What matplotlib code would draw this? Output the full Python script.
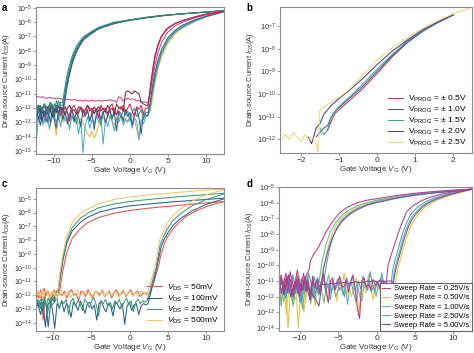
import numpy as np
import matplotlib.pyplot as plt

plt.rcParams['font.family'] = ['Liberation Sans', 'DejaVu Sans']
plt.rcParams['mathtext.fontset'] = 'custom'
plt.rcParams['mathtext.rm'] = 'Liberation Sans'
plt.rcParams['mathtext.it'] = 'Liberation Sans:italic'
plt.rcParams['mathtext.bf'] = 'Liberation Sans:bold'

# ---------------- panel a : log10(I_DS) ----------------
a_fwd_start, a_fwd_end = -12.3, 2.4
a_on_vg = [2.4, 2.7, 3.0, 3.3, 3.7, 4.2, 5.0, 6.0, 7.0, 8.5, 10.0, 12.4]

a_crimson_noise = [-11.8,-12.3,-11.9,-12.2,-12.6,-11.9,-12.1,-11.7,-12.4,-12.0,
                   -11.8,-12.5,-12.1,-11.9,-12.3,-12.9,-12.0,-11.8,-12.2,-12.4,
                   -11.9,-12.1,-12.6,-11.8,-12.0,-12.3,-11.9,-12.2,-12.7,-11.8,
                   -12.1,-12.0,-12.4,-11.9,-11.7,-12.2,-12.5,-11.9,-12.1,-11.8,
                   -12.3,-12.0,-11.7,-12.2,-12.6,-11.9,-12.1,-11.8,-12.4,-12.0]
a_blue_noise = [-12.0,-12.6,-13.2,-12.1,-12.4,-13.0,-12.2,-11.9,-12.7,-13.4,
                -12.3,-12.0,-12.8,-12.2,-13.1,-12.4,-12.0,-12.9,-12.3,-12.6,
                -13.3,-12.1,-12.5,-12.2,-12.9,-12.3,-13.5,-12.4,-12.1,-12.8,
                -12.2,-13.0,-12.5,-12.1,-12.7,-12.3,-13.6,-12.2,-12.4,-12.9,
                -12.1,-12.6,-12.3,-13.2,-12.4,-12.0,-12.7,-13.8,-12.3,-12.5]
a_cyan_noise = [-14.6,-12.8,-12.3,-13.1,-12.6,-12.2,-13.4,-12.7,-12.4,-13.0,
                -12.5,-13.3,-12.4,-12.9,-12.6,-13.5,-12.5,-13.0,-12.7,-13.8,
                -12.9,-15.1,-13.2,-12.6,-13.4,-12.8,-13.1,-12.5,-13.0,-12.7,
                -14.5,-12.8,-13.3,-12.6,-12.9,-13.6,-12.7,-13.0,-12.5,-13.2,
                -12.8,-13.0,-12.6,-13.4,-12.7,-12.9,-14.2,-12.8,-13.1,-12.6]
a_orange_noise = [-12.5,-12.9,-12.3,-13.2,-12.6,-12.4,-13.5,-12.8,-12.5,-13.9,
                  -12.7,-12.4,-13.0,-12.6,-12.8,-13.3,-12.5,-12.9,-12.6,-13.1,
                  -12.7,-13.0,-13.4,-13.8,-14.0,-13.6,-14.1,-13.7,-13.2,-12.8,
                  -12.6,-13.0,-12.7,-12.5,-12.9,-13.2,-12.6,-12.8,-12.5,-13.0,
                  -12.7,-12.9,-12.6,-13.1,-12.8,-13.5,-14.2,-13.0,-12.7,-12.5]
a_pink_noise = [-11.2,-11.2,-11.25,-11.2,-11.3,-11.3,-11.25,-11.3,-11.3,-11.35,
                -11.3,-11.35,-11.4,-11.35,-11.4,-11.4,-11.45,-11.4,-11.45,-11.5,
                -11.45,-11.5,-11.45,-11.5,-11.5,-11.45,-11.5,-11.5,-11.45,-11.5,
                -11.5,-11.45,-11.5,-11.4,-11.5,-11.45,-11.6,-11.2,-11.3,-11.5,
                -11.4,-11.3,-11.4,-11.35,-11.4,-11.5,-11.45,-11.6,-11.55,-11.6]
a_maroon_noise = [-12.1,-11.8,-12.3,-12.0,-11.9,-12.4,-12.1,-11.8,-12.2,-12.0,
                  -12.3,-11.9,-12.1,-12.5,-12.0,-11.8,-12.2,-12.1,-12.4,-11.9,
                  -12.0,-12.3,-12.1,-11.8,-12.2,-12.0,-12.4,-12.1,-11.9,-12.2,
                  -12.0,-12.3,-11.8,-12.1,-12.0,-12.4,-11.7,-12.0,-11.9,-12.2,
                  -10.9,-10.8,-10.9,-11.0,-10.8,-10.9,-11.0,-11.6,-11.7,-11.8]
a_teal_noise = [-12.3,-11.9,-12.5,-12.1,-13.0,-12.2,-11.8,-12.6,-12.3,-12.0,
                -12.8,-12.2,-12.4,-11.9,-12.3,-12.7,-12.1,-12.5,-13.1,-12.2,
                -12.0,-12.6,-12.3,-12.1,-12.9,-12.4,-12.2,-12.0,-12.5,-13.2,
                -12.3,-12.1,-12.6,-12.2,-12.8,-12.0,-12.4,-12.3,-12.7,-12.1,
                -12.5,-12.2,-12.9,-12.3,-12.0,-12.6,-12.4,-12.1,-12.8,-12.3]

a_crimson_on = [-12.0,-10.8,-9.6,-8.6,-7.7,-7.0,-6.45,-6.1,-5.9,-5.65,-5.45,-5.25]
a_maroon_on = [-11.8,-10.6,-9.4,-8.4,-7.6,-6.95,-6.4,-6.08,-5.88,-5.65,-5.45,-5.25]
a_pink_on = [-11.6,-11.0,-10.0,-9.1,-8.2,-7.4,-6.7,-6.25,-6.0,-5.72,-5.5,-5.25]
a_blue_on = [-12.5,-11.6,-10.5,-9.6,-8.7,-7.9,-7.1,-6.55,-6.2,-5.85,-5.6,-5.27]
a_teal_on = [-12.3,-11.8,-10.8,-9.9,-9.0,-8.1,-7.25,-6.65,-6.3,-5.9,-5.6,-5.27]
a_orange_on = [-12.5,-12.2,-11.3,-10.3,-9.3,-8.4,-7.5,-6.8,-6.4,-6.0,-5.65,-5.28]
a_cyan_on = [-12.6,-12.0,-11.0,-10.1,-9.1,-8.2,-7.35,-6.7,-6.35,-5.95,-5.62,-5.27]

a_bwd_vg = [12.4, 10, 7.5, 5, 2.5, 0, -2, -4, -5, -6, -6.5, -7, -7.5, -8, -8.3, -8.6, -8.8]
a_bwd_teal = [-5.2,-5.3,-5.4,-5.5,-5.65,-5.85,-6.05,-6.4,-6.7,-7.05,-7.4,-7.85,-8.5,-9.5,-10.3,-11.3,-11.8]
a_bwd_blue = [-5.2,-5.3,-5.4,-5.5,-5.65,-5.85,-6.1,-6.45,-6.8,-7.2,-7.6,-8.1,-8.8,-9.9,-10.8,-11.8,-12.0]
a_bwd_green = [-5.2,-5.3,-5.4,-5.5,-5.65,-5.85,-6.0,-6.35,-6.65,-7.0,-7.3,-7.7,-8.3,-9.2,-9.9,-10.9,-11.6]
a_bwd_navy = [-5.2,-5.3,-5.4,-5.52,-5.68,-5.88,-6.08,-6.45,-6.75,-7.15,-7.5,-8.0,-8.7,-9.7,-10.6,-11.6,-12.1]
a_bwd_noise_teal = [-11.8,-11.5,-12.0,-11.7,-12.2,-11.6,-11.9,-12.4,-11.7,-12.0,-11.8,-12.3,-11.9]
a_bwd_noise_blue = [-12.0,-12.4,-11.8,-12.6,-12.1,-13.0,-12.2,-11.9,-12.5,-12.2,-12.8,-12.0,-13.5]
a_bwd_noise_green = [-11.6,-11.9,-11.5,-12.1,-11.8,-11.6,-12.3,-11.9,-11.7,-12.2,-11.8,-12.0,-11.7]
a_bwd_noise_navy = [-12.1,-11.8,-12.3,-12.0,-12.6,-12.1,-11.9,-12.4,-12.2,-12.9,-12.0,-12.3,-12.5]

# ---------------- panel b ----------------
b_labels = ['± 0.5V', '± 1.0V', '± 1.5V', '± 2.0V', '± 2.5V']
b_vg_05 = [-1.3,-1.2,-1.1,-1.0,-0.7,-0.4,0.0,0.4,0.8,1.2,1.6,2.0]
b_log_05 = [-11.6,-11.2,-10.85,-10.7,-10.25,-9.8,-9.1,-8.35,-7.72,-7.23,-6.83,-6.5]
b_vg_10 = [-1.6,-1.5,-1.4,-1.3,-1.2,-1.1,-1.0,-0.7,-0.4,0.0,0.4,0.8,1.2,1.6,2.0]
b_log_10 = [-11.9,-11.7,-11.5,-11.4,-11.0,-10.75,-10.6,-10.15,-9.7,-9.0,-8.3,-7.7,-7.22,-6.83,-6.5]
b_vg_15 = [-1.5,-1.4,-1.3,-1.22,-1.1,-1.0,-0.7,-0.4,0.0,0.4,0.8,1.2,1.6,2.0]
b_log_15 = [-11.5,-11.8,-11.6,-11.1,-10.75,-10.55,-10.1,-9.6,-8.9,-8.25,-7.65,-7.2,-6.82,-6.5]
b_vg_20 = [-1.8,-1.72,-1.65,-1.6,-1.5,-1.4,-1.2,-1.0,-0.7,-0.4,0.0,0.4,0.8,1.2,1.6,2.0]
b_log_20 = [-11.9,-12.2,-11.8,-11.5,-11.3,-10.9,-10.5,-10.2,-9.8,-9.35,-8.7,-8.1,-7.6,-7.15,-6.8,-6.5]
b_vg_25 = [-2.5,-2.4,-2.3,-2.2,-2.1,-2.0,-1.9,-1.8,-1.7,-1.6,-1.55,-1.5,-1.3,-1.0,-0.7,-0.4,0.0,0.4,0.8,1.2,1.6,2.0,2.5]
b_log_25 = [-12.0,-11.8,-12.0,-11.7,-11.9,-12.1,-11.8,-12.0,-11.9,-12.2,-12.55,-10.7,-10.45,-10.15,-9.75,-9.2,-8.5,-7.95,-7.5,-7.1,-6.75,-6.45,-6.15]

# ---------------- panel c ----------------
c_labels = ['50mV', '100mV', '250mV', '500mV']
c_fwd_start = -12.2
c_noise_50 = [-11.8,-12.2,-11.6,-13.8,-11.9,-11.7,-12.1,-11.8,-12.3,-11.6,
              -11.9,-12.0,-11.7,-12.2,-11.8,-11.6,-12.0,-11.9,-12.4,-11.7,
              -11.8,-12.1,-11.6,-11.9,-12.2,-11.7,-11.8,-12.0,-11.6,-12.1,
              -11.9,-11.7,-12.2,-11.8,-11.6,-12.0,-11.9,-11.7,-12.1,-11.8,
              -11.6,-12.0,-11.8,-11.7,-12.1,-11.9,-11.8,-11.9]
c_noise_100 = [-12.3,-12.8,-13.4,-12.5,-14.3,-12.7,-12.4,-13.0,-14.4,-12.6,
               -12.9,-12.4,-13.2,-12.6,-12.8,-13.6,-12.5,-12.7,-13.1,-12.4,
               -12.8,-13.3,-12.6,-12.5,-13.0,-12.7,-13.8,-12.6,-12.4,-12.9,
               -13.2,-12.6,-12.8,-13.5,-12.5,-12.7,-13.0,-12.6,-14.1,-12.8,
               -12.5,-13.1,-12.7,-12.6,-13.4,-12.8,-12.6,-12.7]
c_noise_250 = [-12.2,-12.6,-12.3,-12.9,-12.4,-13.3,-12.3,-12.7,-12.5,-12.2,
               -13.0,-12.4,-12.6,-12.3,-13.4,-12.5,-12.2,-12.8,-12.4,-12.6,
               -13.1,-12.3,-12.5,-12.9,-12.4,-12.2,-12.7,-13.5,-12.4,-12.6,
               -12.3,-12.8,-12.5,-13.0,-12.4,-12.6,-12.3,-12.9,-12.5,-12.2,
               -12.7,-12.4,-13.2,-12.5,-12.3,-12.6,-12.4,-12.5]
c_noise_500 = [-11.7,-12.0,-11.8,-12.2,-11.6,-11.9,-12.1,-11.7,-11.9,-12.3,
               -11.8,-11.6,-12.0,-11.9,-11.7,-12.2,-11.8,-11.9,-11.6,-12.1,
               -11.9,-11.7,-12.0,-11.8,-12.2,-11.9,-11.7,-12.0,-11.8,-11.6,
               -12.1,-11.9,-11.8,-12.0,-11.7,-11.9,-12.2,-11.8,-11.6,-12.0,
               -11.9,-11.7,-12.1,-11.8,-12.0,-11.9,-11.7,-11.8]
c_on_vg_50 = [2.6,3.0,3.4,3.8,4.1,4.5,4.9,5.5,6.3,7.3,8.6,10.3,12.3]
c_on_50 = [-11.9,-11.3,-10.6,-9.8,-9.0,-8.3,-7.8,-7.3,-6.8,-6.3,-5.9,-5.5,-5.2]
c_on_vg_100 = [2.4,2.8,3.2,3.5,3.8,4.1,4.5,5.0,5.7,6.7,8.1,10.0,12.3]
c_on_100 = [-12.6,-11.7,-10.8,-10.1,-9.3,-8.5,-7.95,-7.45,-6.9,-6.4,-5.9,-5.4,-5.0]
c_on_vg_250 = [2.3,2.7,3.1,3.4,3.7,4.0,4.4,4.9,5.6,6.6,8.0,10.0,12.3]
c_on_250 = [-12.4,-11.6,-10.7,-10.1,-9.2,-8.3,-7.75,-7.2,-6.6,-6.1,-5.55,-5.05,-4.65]
c_on_vg_500 = [2.2,2.6,3.0,3.3,3.6,3.9,4.3,4.8,5.5,6.5,8.0,10.0,12.3]
c_on_500 = [-12.0,-11.3,-10.5,-10.0,-9.0,-8.0,-7.5,-6.9,-6.3,-5.8,-5.2,-4.7,-4.35]
c_bwd_vg = [12.3, 10, 7.5, 5, 2.5, 0, -2, -4, -5.5, -6.5, -7.5, -8.2, -8.7, -9.1, -9.3]
c_bwd_50 = [-5.2,-5.3,-5.42,-5.55,-5.68,-5.85,-6.05,-6.35,-6.75,-7.2,-7.9,-8.9,-10.2,-11.6,-12.0]
c_bwd_100 = [-4.95,-5.05,-5.15,-5.25,-5.38,-5.52,-5.7,-5.98,-6.35,-6.75,-7.35,-8.25,-9.5,-10.9,-11.8]
c_bwd_250 = [-4.6,-4.7,-4.8,-4.92,-5.05,-5.2,-5.38,-5.65,-6.05,-6.45,-7.1,-8.05,-9.3,-10.7,-11.7]
c_bwd_500 = [-4.3,-4.38,-4.48,-4.6,-4.72,-4.88,-5.05,-5.35,-5.75,-6.1,-6.75,-7.7,-9.0,-10.4,-11.5]
c_bwd_noise_50 = [-12.0,-11.6,-11.9,-12.3,-11.7,-12.0,-11.5,-11.9,-12.2,-11.8,-11.6]
c_bwd_noise_100 = [-11.8,-12.5,-12.2,-12.9,-14.3,-12.6,-12.3,-13.1,-12.5,-12.8,-12.4]
c_bwd_noise_250 = [-11.7,-12.3,-12.0,-12.6,-12.2,-12.8,-12.1,-12.4,-13.0,-12.3,-12.5]
c_bwd_noise_500 = [-12.0,-11.7,-11.9,-12.2,-11.8,-11.6,-12.0,-11.8,-12.1,-11.7,-11.9]

# ---------------- panel d ----------------
d_labels = ['0.25V/s', '0.50V/s', '1.00V/s', '2.50V/s', '5.00V/s']
d_fwd_start = -12.7
d_noise_025 = [-11.2,-10.6,-11.5,-10.9,-11.8,-10.4,-11.1,-11.6,-10.8,-12.0,
               -11.3,-10.5,-11.7,-11.0,-12.2,-10.7,-11.4,-10.9,-11.8,-11.1,
               -10.6,-11.5,-12.4,-11.0,-10.8,-11.6,-11.2,-10.7,-11.3,-11.4,
               -10.9,-11.7,-11.1,-10.6,-11.5,-12.8,-13.4,-11.0,-10.8,-11.4,
               -11.2,-11.6,-10.9,-11.3,-11.1,-11.5,-11.0,-11.1]
d_noise_050 = [-11.5,-12.2,-11.0,-13.1,-11.6,-10.8,-12.0,-11.4,-14.0,-11.7,
               -11.1,-12.4,-10.7,-11.8,-11.3,-12.6,-11.0,-11.9,-10.4,-11.5,
               -12.1,-11.2,-10.9,-11.7,-12.3,-11.0,-11.6,-10.5,-11.9,-11.3,
               -12.0,-11.4,-10.8,-13.2,-11.5,-11.1,-11.8,-10.6,-11.4,-12.2,
               -11.0,-11.6,-11.3,-10.9,-11.7,-11.2,-11.5,-11.4]
d_noise_100 = [-11.0,-11.6,-12.3,-11.2,-10.7,-11.8,-12.6,-11.4,-11.0,-11.9,
               -12.8,-11.3,-10.8,-11.7,-11.1,-12.2,-11.5,-10.9,-11.6,-12.4,
               -11.2,-10.6,-11.8,-11.3,-12.0,-11.5,-10.8,-11.9,-11.4,-12.5,
               -11.1,-10.7,-11.6,-11.2,-11.9,-12.3,-11.0,-11.5,-10.9,-11.7,
               -11.3,-12.0,-11.1,-10.8,-11.6,-11.4,-11.2,-11.3]
d_noise_250 = [-11.3,-10.9,-11.7,-12.1,-11.0,-11.5,-10.6,-11.8,-11.2,-12.4,
               -11.1,-10.8,-11.6,-11.3,-12.0,-10.7,-11.4,-11.9,-11.1,-10.5,
               -11.7,-11.2,-12.2,-11.0,-11.5,-10.9,-11.6,-11.3,-12.0,-10.8,
               -11.4,-11.1,-11.8,-12.3,-11.0,-11.5,-10.7,-11.3,-11.6,-10.4,
               -11.2,-11.7,-11.0,-11.4,-10.5,-11.3,-11.1,-11.2]
d_noise_500 = [-11.4,-10.8,-11.9,-11.2,-10.6,-11.5,-12.0,-11.1,-10.9,-11.7,
               -11.3,-10.7,-11.6,-12.2,-11.0,-11.4,-11.5,-11.3,-11.2,-11.25,
               -11.2,-11.2,-11.15,-11.2,-11.15,-11.1,-11.15,-11.1,-11.1,-11.15,
               -11.1,-11.1,-11.05,-11.1,-11.1,-11.05,-11.1,-11.0,-11.05,-11.0,
               -11.0,-11.05,-11.0,-11.0,-11.0,-11.05,-11.0,-11.0]
d_on_vg_025 = [1.3,1.5,1.8,2.2,2.8,3.4,3.9,4.5,5.2,6.0,7.0,8.5,10.0,12.4]
d_on_025 = [-11.0,-10.0,-9.5,-8.9,-8.0,-7.2,-6.6,-6.3,-6.05,-5.85,-5.65,-5.45,-5.3,-5.13]
d_on_vg_050 = [2.4,2.6,2.9,3.3,3.8,4.4,4.9,5.5,6.2,7.0,8.0,9.5,11.0,12.4]
d_on_050 = [-11.5,-10.6,-10.0,-9.3,-8.4,-7.6,-7.1,-6.7,-6.35,-6.08,-5.82,-5.55,-5.35,-5.15]
d_on_vg_100 = [2.1,2.3,2.6,3.0,3.5,4.1,4.6,5.2,5.9,6.7,7.7,9.2,10.7,12.4]
d_on_100 = [-11.3,-10.4,-9.8,-9.1,-8.2,-7.4,-6.9,-6.55,-6.22,-5.98,-5.75,-5.5,-5.32,-5.14]
d_on_vg_250 = [1.9,2.1,2.4,2.8,3.3,3.9,4.4,5.0,5.7,6.5,7.5,9.0,10.5,12.4]
d_on_250 = [-11.2,-10.3,-9.7,-9.0,-8.1,-7.3,-6.8,-6.45,-6.15,-5.92,-5.7,-5.48,-5.3,-5.13]
d_on_vg_500 = [2.2,2.4,2.7,3.1,3.6,4.2,4.7,5.3,6.0,6.8,7.8,9.3,10.8,12.4]
d_on_500 = [-11.1,-10.5,-9.9,-9.2,-8.3,-7.5,-7.0,-6.62,-6.28,-6.02,-5.78,-5.52,-5.33,-5.14]

d_bwd_vg_025 = [12.4,10,7.2,5,2.5,0,-1.3,-2.5,-4.0,-5.0,-5.7,-6.5,-7.2,-7.75,-8.2,-8.6,-8.8]
d_bwd_025 = [-5.13,-5.2,-5.3,-5.4,-5.55,-5.75,-5.85,-6.0,-6.35,-6.75,-7.2,-7.8,-8.5,-9.0,-9.3,-9.7,-10.3]
d_bwd_vg_050 = [12.4,10,7.2,5,2.5,0,-1.3,-2.5,-3.5,-4.5,-5.2,-5.8,-6.3,-6.8,-7.1]
d_bwd_050 = [-5.15,-5.24,-5.36,-5.48,-5.66,-5.9,-6.07,-6.3,-6.58,-6.95,-7.4,-8.0,-8.8,-9.9,-10.9]
d_bwd_vg_100 = [12.4,10,7.2,5,2.5,0,-1.3,-2.5,-3.5,-4.5,-5.3,-6.0,-6.6,-7.1,-7.4]
d_bwd_100 = [-5.14,-5.22,-5.33,-5.45,-5.62,-5.85,-6.0,-6.2,-6.45,-6.8,-7.25,-7.85,-8.7,-9.8,-10.8]
d_bwd_vg_250 = [12.4,10,7.2,5,2.5,0,-1.3,-2.5,-3.5,-4.5,-5.1,-5.6,-6.1,-6.5,-6.8]
d_bwd_250 = [-5.15,-5.25,-5.38,-5.5,-5.7,-5.95,-6.13,-6.38,-6.68,-7.1,-7.55,-8.1,-8.9,-9.9,-10.8]
d_bwd_vg_500 = [12.4,10,7.2,5,2.5,0,-1.3,-2.5,-3.5,-4.5,-5.2,-5.8,-6.4,-6.9,-7.2,-7.5,-8.0,-8.7]
d_bwd_500 = [-5.16,-5.27,-5.4,-5.53,-5.73,-6.0,-6.18,-6.45,-6.75,-7.2,-7.7,-8.3,-9.2,-10.2,-11.5,-12.6,-12.1,-11.6]
d_bwd_noise_025 = [-10.6,-11.2,-10.8,-11.5,-10.3,-11.0,-11.7,-10.9,-11.3,-10.5,-11.1,-11.8,-11.0]
d_bwd_noise_050 = [-11.5,-10.8,-11.9,-11.2,-12.5,-11.0,-11.6,-13.0,-11.3,-10.7,-11.8,-12.2,-11.1,-11.6,-14.0,-11.4,-10.9,-11.7,-11.2]
d_bwd_noise_100 = [-11.3,-11.8,-11.1,-12.4,-11.5,-10.9,-11.7,-12.0,-11.2,-10.6,-11.6,-12.3,-11.4,-10.8,-11.9,-11.1,-12.6,-11.3]
d_bwd_noise_250 = [-11.2,-11.7,-10.8,-11.4,-12.1,-11.0,-10.5,-11.6,-11.3,-12.4,-10.9,-11.5,-11.1,-12.0,-11.4,-10.7,-11.8,-11.3,-11.6,-10.9]
d_bwd_noise_500 = [-11.4,-10.9,-11.6,-11.2,-11.8,-11.0,-11.5,-12.0,-11.3,-10.8,-11.6,-11.1,-11.4]


def fwd_curve(start, noise, on_vg, on_log):
    x = np.concatenate([np.linspace(start, on_vg[0], len(noise) + 1)[:-1], on_vg])
    y = np.concatenate([noise, on_log])
    return x, 10.0 ** y


def bwd_curve(vg, logs, stop, noise):
    x = np.concatenate([vg, np.linspace(vg[-1], stop, len(noise) + 1)[1:]])
    y = np.concatenate([logs, noise])
    return x, 10.0 ** y


def style_axes(ax, xlim, ylim, xticks, ylog_ticks, ylab_x, ysize=5.3):
    ax.set_yscale('log')
    ax.set_xlim(*xlim)
    ax.set_ylim(10.0 ** ylim[0], 10.0 ** ylim[1])
    ax.set_xticks(xticks)
    ax.set_yticks([10.0 ** k for k in ylog_ticks])
    ax.set_yticklabels(['$10^{%d}$' % k for k in ylog_ticks])
    ax.minorticks_off()
    for s in ax.spines.values():
        s.set_color('#8c8c8c')
        s.set_linewidth(0.8)
    ax.tick_params(axis='x', labelsize=6, length=2, width=0.6, color='#8c8c8c',
                   labelcolor='#333333', pad=1)
    ax.tick_params(axis='y', labelsize=ysize, length=2, width=0.6, color='#8c8c8c',
                   labelcolor='#333333', pad=1)
    ax.set_xlabel('Gate Voltage $V_{\\mathrm{G}}$ (V)', fontsize=5.8, color='#333333', labelpad=0)
    ax.set_ylabel('Drain-source Current $I_{\\mathrm{DS}}$(A)', fontsize=5.5, color='#333333')
    ax.yaxis.set_label_coords(ylab_x, 0.5)


fig = plt.figure(figsize=(4.74, 3.53), dpi=100)
lw = 0.75

# panel a
ax = fig.add_axes([0.076, 0.5637, 0.3966, 0.4163])
fwd_a = [
    (a_orange_noise, a_orange_on, '#f0b43c'),
    (a_cyan_noise, a_cyan_on, '#4aaed2'),
    (a_teal_noise, a_teal_on, '#3a9a88'),
    (a_blue_noise, a_blue_on, '#2f5f95'),
    (a_pink_noise, a_pink_on, '#c24a86'),
    (a_maroon_noise, a_maroon_on, '#7d2838'),
    (a_crimson_noise, a_crimson_on, '#cc2452'),
]
for noise, on, col in fwd_a:
    x, y = fwd_curve(a_fwd_start, noise, a_on_vg, on)
    ax.plot(x, y, color=col, lw=lw)
bwd_a = [
    (a_bwd_navy, a_bwd_noise_navy, '#363c5c'),
    (a_bwd_blue, a_bwd_noise_blue, '#2f5f95'),
    (a_bwd_teal, a_bwd_noise_teal, '#2f8896'),
    (a_bwd_green, a_bwd_noise_green, '#2f8a6c'),
]
for logs, noise, col in bwd_a:
    x, y = bwd_curve(a_bwd_vg, logs, a_fwd_start, noise)
    ax.plot(x, y, color=col, lw=lw)
style_axes(ax, (-12.3, 12.4), (-15.2, -4.95), [-10, -5, 0, 5, 10], range(-15, -4), -0.128, 5.0)

# panel b
ax = fig.add_axes([0.5907, 0.567, 0.4053, 0.413])
b_series = [(b_vg_05, b_log_05, '#c0385a'), (b_vg_10, b_log_10, '#3b5a8c'),
            (b_vg_15, b_log_15, '#3f9e98'), (b_vg_20, b_log_20, '#4f3f8f'),
            (b_vg_25, b_log_25, '#f0d27a')]
for (vg, lg, col), lab in zip(b_series, b_labels):
    ax.plot(vg, 10.0 ** np.array(lg), color=col, lw=lw, label='V$_{\\mathrm{PROG}}$ = ' + lab)
style_axes(ax, (-2.55, 2.5), (-12.6, -6.15), [-2, -1, 0, 1, 2], range(-12, -6), -0.125)
ax.legend(loc='lower right', fontsize=6, frameon=False, handlelength=1.8,
          handletextpad=0.6, labelspacing=0.1, borderaxespad=0.2)

# panel c
ax = fig.add_axes([0.076, 0.062, 0.3966, 0.4054])
c_series = [
    (c_noise_50, c_on_vg_50, c_on_50, c_bwd_50, c_bwd_noise_50, '#e0524c'),
    (c_noise_100, c_on_vg_100, c_on_100, c_bwd_100, c_bwd_noise_100, '#2c5c8a'),
    (c_noise_250, c_on_vg_250, c_on_250, c_bwd_250, c_bwd_noise_250, '#3a9a72'),
    (c_noise_500, c_on_vg_500, c_on_500, c_bwd_500, c_bwd_noise_500, '#f3c46a'),
]
for (noise, on_vg, on, bwd, bnoise, col), lab in zip(c_series, c_labels):
    x, y = fwd_curve(c_fwd_start, noise, on_vg, on)
    ax.plot(x, y, color=col, lw=lw, label='$V_{\\mathrm{DS}}$ = ' + lab)
    x, y = bwd_curve(c_bwd_vg, bwd, c_fwd_start, bnoise)
    ax.plot(x, y, color=col, lw=lw)
style_axes(ax, (-12.2, 12.3), (-14.6, -4.22), [-10, -5, 0, 5, 10], range(-14, -4), -0.128, 5.0)
ax.legend(loc='lower right', fontsize=6, frameon=False, handlelength=1.8,
          handletextpad=0.6, labelspacing=0.1, borderaxespad=0.25)

# panel d
ax = fig.add_axes([0.5886, 0.062, 0.4074, 0.4083])
d_series = [
    (d_noise_050, d_on_vg_050, d_on_050, d_bwd_vg_050, d_bwd_050, d_bwd_noise_050, '#e8c23c'),
    (d_noise_100, d_on_vg_100, d_on_100, d_bwd_vg_100, d_bwd_100, d_bwd_noise_100, '#62b88e'),
    (d_noise_250, d_on_vg_250, d_on_250, d_bwd_vg_250, d_bwd_250, d_bwd_noise_250, '#4a9fc8'),
    (d_noise_500, d_on_vg_500, d_on_500, d_bwd_vg_500, d_bwd_500, d_bwd_noise_500, '#7a4a9a'),
    (d_noise_025, d_on_vg_025, d_on_025, d_bwd_vg_025, d_bwd_025, d_bwd_noise_025, '#b83a8a'),
]
handles = {}
for noise, on_vg, on, bvg, bwd, bnoise, col in d_series:
    x, y = fwd_curve(d_fwd_start, noise, on_vg, on)
    handles[col], = ax.plot(x, y, color=col, lw=lw)
    x, y = bwd_curve(bvg, bwd, d_fwd_start, bnoise)
    ax.plot(x, y, color=col, lw=lw)
style_axes(ax, (-12.7, 12.45), (-14.2, -5.0), [-10, -5, 0, 5, 10], range(-14, -4), -0.125)
order = ['#b83a8a', '#e8c23c', '#62b88e', '#4a9fc8', '#7a4a9a']
leg = ax.legend([handles[c] for c in order], ['Sweep Rate = ' + s for s in d_labels],
                loc='lower right', fontsize=5.4, frameon=True, fancybox=False,
                handlelength=1.0, handletextpad=0.6, labelspacing=0.25,
                borderaxespad=0.0, borderpad=0.3)
leg.get_frame().set_edgecolor('#666666')
leg.get_frame().set_linewidth(0.8)
leg.get_frame().set_alpha(1)

for lab, xx, yy in [('a', 0.004, 0.992), ('b', 0.52, 0.992), ('c', 0.004, 0.492), ('d', 0.52, 0.492)]:
    fig.text(xx, yy, lab, fontsize=7, fontweight='bold', va='top', ha='left')

fig.savefig('out.png', dpi=100)
